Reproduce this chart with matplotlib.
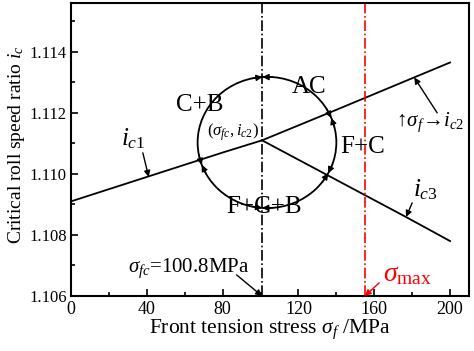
import numpy as np
import matplotlib
matplotlib.use("Agg")
import matplotlib.pyplot as plt
from matplotlib.patches import Ellipse
from matplotlib.ticker import MultipleLocator, FormatStrFormatter

plt.rcParams['font.family'] = ['Liberation Serif', 'DejaVu Serif']
plt.rcParams['mathtext.fontset'] = 'custom'
plt.rcParams['mathtext.rm'] = 'Liberation Serif'
plt.rcParams['mathtext.it'] = 'Liberation Serif:italic'
plt.rcParams['mathtext.bf'] = 'Liberation Serif:bold'

# data
sigma_fc = 100.8
sigma_max = 155
ic1_x = [0, 40, 80, 100.8]
ic1_y = [1.1091, 1.1099, 1.1107, 1.1111]
ic2_x = [100.8, 140, 181, 200]
ic2_y = [1.1111, 1.1121, 1.11316, 1.11365]
ic3_x = [100.8, 177, 200]
ic3_y = [1.1111, 1.10858, 1.1078]

# loop around the critical point
loop_cx, loop_cy = 103.4, 1.11103
loop_a, loop_b = 36.6, 0.00215
# parametric angles (deg) where the loop crosses the lines
cross_ang = [93.7, 22, -28, 266, 200]

fig = plt.figure(figsize=(4.74, 3.51), dpi=100)
ax = fig.add_axes([0.1498, 0.1567, 0.8397, 0.8348])

ax.plot(ic1_x, ic1_y, 'k-', lw=1.3)
ax.plot(ic2_x, ic2_y, 'k-', lw=1.3)
ax.plot(ic3_x, ic3_y, 'k-', lw=1.3)
ax.axvline(sigma_fc, color='k', ls='-.', lw=1.2)
ax.axvline(sigma_max, color='red', ls='-.', lw=1.2)

ax.add_patch(Ellipse((loop_cx, loop_cy), 2 * loop_a, 2 * loop_b,
                     fill=False, ec='k', lw=1.3))

def on_loop(deg):
    t = np.deg2rad(deg)
    return loop_cx + loop_a * np.cos(t), loop_cy + loop_b * np.sin(t)

for a in cross_ang:
    tip = on_loop(a)
    for d in (-9, 9):
        ax.annotate('', xy=tip, xytext=on_loop(a + d),
                    arrowprops=dict(arrowstyle='-|>', color='k', lw=1.0,
                                    mutation_scale=9, shrinkA=0, shrinkB=0))

# region labels
ax.text(67.9, 1.11226, 'C+B', fontsize=18, ha='center', va='center')
ax.text(125.8, 1.11285, 'AC', fontsize=18, ha='center', va='center')
ax.text(153.7, 1.11089, 'F+C', fontsize=18, ha='center', va='center')
ax.text(101.6, 1.10892, 'F+C+B', fontsize=18, ha='center', va='center')
ax.text(85.3, 1.11138, r'$(\sigma_{fc}, i_{c2})$', fontsize=12,
        ha='center', va='center')

arr = dict(arrowstyle='-|>', color='k', lw=1.0, mutation_scale=9,
           shrinkA=0, shrinkB=0)
ax.text(33, 1.11115, r'$i_{c1}$', fontsize=18, ha='center', va='center')
ax.annotate('', xy=(41.0, 1.1099), xytext=(37.9, 1.11069), arrowprops=arr)

ax.text(188.5, 1.1117, r'$\uparrow\!\sigma_f\!\rightarrow\! i_{c2}$',
        fontsize=15, ha='center', va='center')
ax.annotate('', xy=(181.1, 1.11316), xytext=(193.2, 1.1120), arrowprops=arr)

ax.text(186.8, 1.10948, r'$i_{c3}$', fontsize=18, ha='center', va='center')
ax.annotate('', xy=(176.8, 1.10859), xytext=(180.0, 1.10905), arrowprops=arr)

ax.text(30, 1.10692, r'$\sigma_{fc}$=100.8MPa', fontsize=15,
        ha='left', va='center')
ax.annotate('', xy=(sigma_fc, 1.106), xytext=(87.4, 1.10669), arrowprops=arr)

ax.text(164.7, 1.10669, r'$\sigma_{\rm max}$', fontsize=20, color='red',
        ha='left', va='center')
ax.annotate('', xy=(sigma_max, 1.106), xytext=(162.6, 1.10643),
            arrowprops=dict(arr, color='red'))

ax.set_xlim(0, 210)
ax.set_ylim(1.106, 1.1156)
ax.xaxis.set_major_locator(MultipleLocator(40))
ax.xaxis.set_minor_locator(MultipleLocator(20))
ax.yaxis.set_major_locator(MultipleLocator(0.002))
ax.yaxis.set_minor_locator(MultipleLocator(0.001))
ax.yaxis.set_major_formatter(FormatStrFormatter('%.3f'))
ax.tick_params(which='both', direction='in', top=False, right=False,
               width=1.2)
ax.tick_params(axis='x', labelsize=13)
ax.tick_params(axis='y', labelsize=12, pad=3)
ax.tick_params(which='major', length=5)
ax.tick_params(which='minor', length=3)
for s in ax.spines.values():
    s.set_linewidth(1.5)

ax.set_xlabel(r'Front tension stress $\sigma_f$ /MPa', fontsize=15.5, labelpad=0)
ax.set_ylabel(r'Critical roll speed ratio $i_c$', fontsize=14)
ax.yaxis.set_label_coords(-0.11, 0.515)

fig.savefig('out.png', dpi=100)
